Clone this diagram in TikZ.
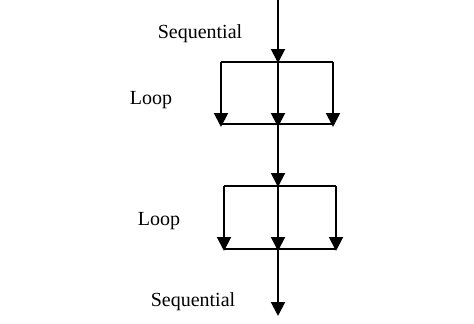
\documentclass[tikz,border=0pt]{standalone}
\usepackage{fontspec}
\setmainfont{Liberation Serif}
\usetikzlibrary{arrows.meta}
\begin{document}
\begin{tikzpicture}[x=1pt,y=-1pt,
  flow/.style={line width=2pt,-{Triangle[width=14pt,length=14pt]}},
  bar/.style={line width=2pt},
  lbl/.style={font=\fontsize{20}{23}\selectfont,inner sep=0pt,anchor=base}]
\useasboundingbox (0,0) rectangle (474,324);
\coordinate (top) at (278,0);
\coordinate (b1L) at (221,62);
\coordinate (b1M) at (278,63);
\coordinate (b1R) at (333,62);
\coordinate (c1L) at (221,127);
\coordinate (c1M) at (278,127);
\coordinate (c1R) at (333,127);
\coordinate (d1L) at (221,124);
\coordinate (d1R) at (333,124);
\coordinate (d1M) at (278,124);
\coordinate (b2L) at (224,186);
\coordinate (b2M) at (278,187);
\coordinate (b2R) at (336,186);
\coordinate (c2L) at (224,251);
\coordinate (c2M) at (278,251);
\coordinate (c2R) at (336,251);
\coordinate (d2L) at (224,249);
\coordinate (d2R) at (336,249);
\coordinate (d2M) at (278,249);
\coordinate (end) at (278,316);
% bars
\draw[bar] (b1L) -- (b1R);
\draw[bar] (d1L) -- (d1R);
\draw[bar] (b2L) -- (b2R);
\draw[bar] (d2L) -- (d2R);
% arrows
\draw[flow] (top) -- (b1M);
\draw[flow] (b1L) -- (c1L);
\draw[flow] (b1M) -- (c1M);
\draw[flow] (b1R) -- (c1R);
\draw[flow] (d1M) -- (b2M);
\draw[flow] (b2L) -- (c2L);
\draw[flow] (b2M) -- (c2M);
\draw[flow] (b2R) -- (c2R);
\draw[flow] (d2M) -- (end);
% labels
\node[lbl] (s1) at (200,38) {Sequential};
\node[lbl] (l1) at (151,104) {Loop};
\node[lbl] (l2) at (159,225) {Loop};
\node[lbl] (s2) at (193,306) {Sequential};
\end{tikzpicture}
\end{document}
